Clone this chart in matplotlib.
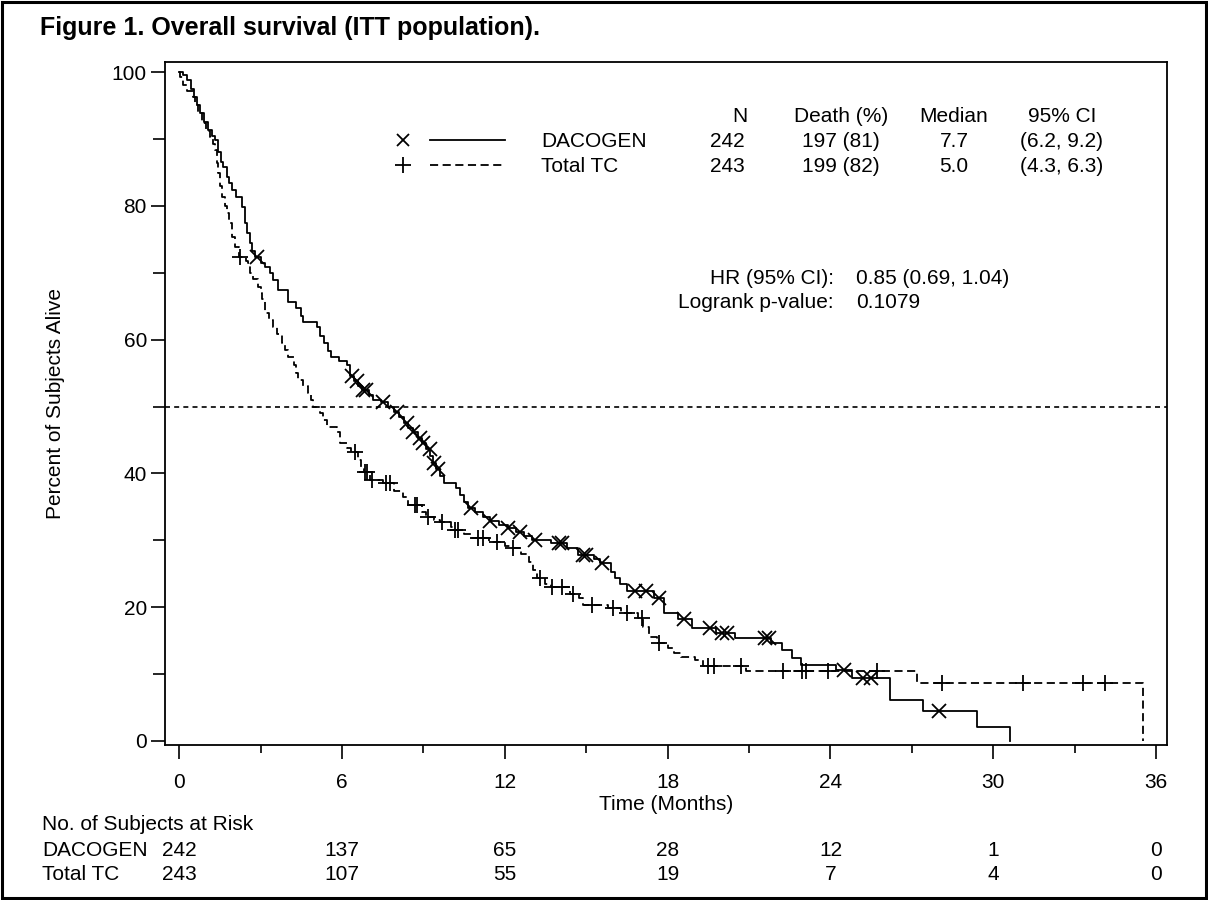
import numpy as np
import matplotlib
matplotlib.use("Agg")
import matplotlib.pyplot as plt
from matplotlib.transforms import blended_transform_factory
from matplotlib.patches import Rectangle

plt.rcParams['font.family'] = ['Liberation Sans', 'DejaVu Sans']

# ---------------- data ----------------
dac_t = [0, 0.15, 0.3, 0.45, 0.55, 0.65, 0.77, 0.9, 1.05, 1.2, 1.33, 1.45, 1.55, 1.62, 1.75,
         1.85, 1.95, 2.1, 2.32, 2.42, 2.5, 2.6, 2.7, 2.8, 3.0, 3.15, 3.35, 3.45, 3.65, 4.0,
         4.3, 4.5, 4.55, 5.08, 5.2, 5.35, 5.5, 5.6, 5.9, 6.19, 6.3, 6.45, 6.6, 6.75, 7.0,
         7.15, 7.45, 7.7, 7.9, 8.1, 8.3, 8.45, 8.6, 8.8, 8.95, 9.1, 9.25, 9.35, 9.45, 9.6,
         9.75, 10.2, 10.35, 10.5, 10.65, 10.9, 11.2, 11.45, 11.8, 12.1, 12.4, 12.7, 13.0,
         13.7, 14.3, 14.7, 15.3, 15.5, 15.9, 16.05, 16.25, 16.5, 17.5, 17.85, 18.4, 18.9,
         19.8, 20.5, 21.8, 22.2, 22.6, 22.9, 24.2, 24.8, 26.2, 27.4, 29.4, 30.6]
dac_s = [100, 99.6, 98.8, 97.5, 96.3, 95.0, 93.9, 92.6, 91.3, 90.5, 89.8, 88.0, 86.5, 85.8, 84.3,
         83.4, 82.4, 81.3, 79.8, 77.5, 75.9, 74.5, 73.2, 72.3, 71.5, 70.8, 70.0, 68.9, 67.4, 65.6,
         64.8, 63.5, 62.6, 61.9, 60.5, 59.5, 58.3, 57.4, 56.8, 56.2, 54.6, 53.8, 53.0, 52.4, 51.7,
         51.0, 50.6, 49.9, 49.2, 48.4, 47.6, 46.8, 46.2, 45.3, 44.5, 43.6, 42.6, 41.6, 40.6, 39.6,
         38.6, 37.8, 36.8, 35.8, 34.8, 34.2, 33.5, 32.9, 32.3, 31.8, 31.3, 30.6, 30.0,
         29.6, 28.8, 27.8, 27.2, 26.6, 25.3, 24.3, 23.5, 22.4, 21.3, 19.1, 18.2, 16.9,
         16.1, 15.4, 14.6, 13.6, 12.4, 11.4, 10.6, 9.4, 6.1, 4.5, 2.1, 0.0]
dac_cens = [2.87, 6.37, 6.55, 6.78, 6.9, 7.5, 8.03, 8.4, 8.6, 8.88, 9.0, 9.24, 9.4, 9.55,
            10.75, 11.45, 12.1, 12.55, 13.1, 14.0, 14.1, 14.9, 15.0, 15.6, 16.8, 17.2, 17.7,
            18.6, 19.55, 20.0, 20.2, 21.6, 21.75, 24.5, 25.2, 25.5, 28.0]

tc_t = [0, 0.05, 0.15, 0.3, 0.5, 0.6, 0.7, 0.85, 1.0, 1.14, 1.25, 1.33, 1.4, 1.44, 1.5, 1.58,
        1.68, 1.77, 1.85, 1.95, 2.05, 2.2, 2.45, 2.54, 2.6, 2.73, 2.9, 3.0, 3.06, 3.17, 3.3,
        3.46, 3.6, 3.8, 3.9, 4.0, 4.24, 4.3, 4.38, 4.55, 4.75, 4.85, 4.94, 5.2, 5.3, 5.45,
        5.8, 5.93, 6.2, 6.35, 6.6, 6.7, 6.8, 7.05, 7.5, 7.9, 8.25, 8.45, 8.95, 9.1, 9.4, 9.6,
        10.0, 10.1, 10.5, 10.8, 11.4, 12.0, 12.2, 12.6, 12.9, 13.05, 13.2, 13.5, 13.7, 14.4,
        14.75, 14.9, 15.8, 16.3, 16.9, 17.1, 17.3, 17.6, 18.0, 18.25, 18.5, 19.0, 19.3, 20.9,
        27.2, 35.5]
tc_s = [100, 99.3, 98.0, 97.2, 96.3, 95.0, 93.9, 92.4, 91.2, 90.3, 89.2, 88.3, 86.4, 84.9, 83.0, 81.3,
        80.0, 78.9, 77.5, 75.3, 73.8, 72.3, 71.8, 71.4, 70.0, 69.0, 67.9, 66.9, 66.0, 64.0, 63.0,
        61.9, 60.8, 59.5, 58.5, 57.4, 56.2, 55.0, 54.0, 53.0, 52.0, 51.0, 49.9, 49.0, 48.0, 46.9,
        46.2, 44.5, 43.8, 43.2, 42.0, 41.0, 40.2, 39.0, 38.5, 37.3, 36.5, 35.3, 34.2, 33.5, 33.0, 32.7,
        32.0, 31.5, 31.0, 30.3, 29.7, 29.1, 28.8, 28.0, 26.8, 25.5, 24.4, 23.5, 23.0, 22.0,
        21.3, 20.3, 19.9, 19.1, 18.4, 17.0, 15.5, 14.6, 13.9, 13.2, 12.6, 12.1, 11.2, 10.5,
        8.7, 0.0]
tc_cens = [2.25, 6.48, 6.85, 6.92, 7.1, 7.62, 7.77, 8.69, 8.77, 9.17, 9.69, 10.17, 10.28, 11.0,
           11.2, 11.7, 12.3, 13.3, 13.74, 14.1, 14.5, 15.2, 16.0, 16.5, 17.05, 17.7, 19.5,
           19.7, 20.7, 22.25, 22.95, 23.1, 23.9, 25.7, 28.1, 31.1, 33.3, 34.1]

groups = ["DACOGEN", "Total TC"]
n_subj = ["242", "243"]
deaths = ["197 (81)", "199 (82)"]
medians = ["7.7", "5.0"]
cis = ["(6.2, 9.2)", "(4.3, 6.3)"]
hr_text = "0.85 (0.69, 1.04)"
p_text = "0.1079"

risk_times = [0, 6, 12, 18, 24, 30, 36]
risk_dac = [242, 137, 65, 28, 12, 1, 0]
risk_tc = [243, 107, 55, 19, 7, 4, 0]

# ---------------- figure ----------------
W, H = 1208, 900
fig = plt.figure(figsize=(W / 100, H / 100), dpi=100)

def fx(px):
    return px / W

def fy(py):
    return 1 - py / H

# outer frame
fig.patches.append(Rectangle((0.002, 0.002), 0.996, 0.996, transform=fig.transFigure,
                             fill=False, edgecolor='black', linewidth=2.2))

ax = fig.add_axes([fx(165), fy(745), fx(1167) - fx(165), fy(62) - fy(745)])

def step_level(ts, ss, t):
    i = np.searchsorted(ts, t, side='right') - 1
    return np.asarray(ss)[i]

ax.plot(dac_t, dac_s, drawstyle='steps-post', color='black', lw=1.3)
ax.plot(tc_t, tc_s, drawstyle='steps-post', color='black', lw=1.3, linestyle=(0, (4.5, 2.5)))
ax.plot(dac_cens, step_level(dac_t, dac_s, dac_cens), linestyle='none', marker='x',
        markersize=10, mew=1.3, color='black')
ax.plot(tc_cens, step_level(tc_t, tc_s, tc_cens), linestyle='none', marker='+',
        markersize=12, mew=1.3, color='black')
ax.axhline(50, color='black', lw=1.2, linestyle=(0, (3, 2.5)))

fs = 15
ax.set_xlim(-0.52, 36.4)
ax.set_ylim(-0.6, 101.5)
ax.set_xticks(risk_times)
ax.set_xticks([3, 9, 15, 21, 27, 33], minor=True)
ax.set_yticks([0, 20, 40, 60, 80, 100])
ax.set_yticks([10, 30, 50, 70, 90], minor=True)
ax.tick_params(axis='both', which='major', direction='out', length=10, width=1.2,
               labelsize=fs, colors='black')
ax.tick_params(axis='x', which='major', pad=10)
ax.tick_params(axis='y', which='major', pad=3)
ax.tick_params(axis='x', which='minor', direction='out', length=6, width=1.2)
ax.tick_params(axis='y', which='minor', direction='out', length=9, width=1.2)
for sp in ax.spines.values():
    sp.set_linewidth(1.3)

ax.set_xlabel("Time (Months)", fontsize=fs, labelpad=2)
ax.set_ylabel("Percent of Subjects Alive", fontsize=fs, labelpad=34)

# title
fig.text(fx(40), fy(28), "Figure 1. Overall survival (ITT population).", fontsize=18,
         fontweight='bold', ha='left', va='center')

# legend table
hdr_y = 116
row_y = [141, 166]
fig.text(fx(740), fy(hdr_y), "N", fontsize=fs, ha='center', va='center')
fig.text(fx(841), fy(hdr_y), "Death (%)", fontsize=fs, ha='center', va='center')
fig.text(fx(954), fy(hdr_y), "Median", fontsize=fs, ha='center', va='center')
fig.text(fx(1062), fy(hdr_y), "95% CI", fontsize=fs, ha='center', va='center')
markers = ['x', '+']
styles = ['-', (0, (4.5, 2.5))]
msz = [8, 12]
for i in range(2):
    y = fy(row_y[i])
    ym = fy(row_y[i] - 1)
    fig.add_artist(plt.Line2D([fx(403)], [ym], marker=markers[i], markersize=msz[i], mew=1.3,
                              color='black', transform=fig.transFigure))
    fig.add_artist(plt.Line2D([fx(430), fx(505)], [ym, ym], linestyle=styles[i], lw=1.3,
                              color='black', transform=fig.transFigure))
    fig.text(fx(541), y, groups[i], fontsize=fs, ha='left', va='center')
    fig.text(fx(727), y, n_subj[i], fontsize=fs, ha='center', va='center')
    fig.text(fx(841), y, deaths[i], fontsize=fs, ha='center', va='center')
    fig.text(fx(954), y, medians[i], fontsize=fs, ha='center', va='center')
    fig.text(fx(1062), y, cis[i], fontsize=fs, ha='center', va='center')

fig.text(fx(834), fy(278), "HR (95% CI):", fontsize=fs, ha='right', va='center')
fig.text(fx(856), fy(278), hr_text, fontsize=fs, ha='left', va='center')
fig.text(fx(834), fy(303), "Logrank p-value:", fontsize=fs, ha='right', va='center')
fig.text(fx(856), fy(303), p_text, fontsize=fs, ha='left', va='center')

# risk table
tr = blended_transform_factory(ax.transData, fig.transFigure)
fig.text(fx(42), fy(825), "No. of Subjects at Risk", fontsize=fs, ha='left', va='center')
fig.text(fx(42), fy(851), groups[0], fontsize=fs, ha='left', va='center')
fig.text(fx(42), fy(875), groups[1], fontsize=fs, ha='left', va='center')
for t, a, b in zip(risk_times, risk_dac, risk_tc):
    ax.text(t, fy(851), str(a), transform=tr, fontsize=fs, ha='center', va='center')
    ax.text(t, fy(875), str(b), transform=tr, fontsize=fs, ha='center', va='center')

fig.savefig("out.png", dpi=100)
